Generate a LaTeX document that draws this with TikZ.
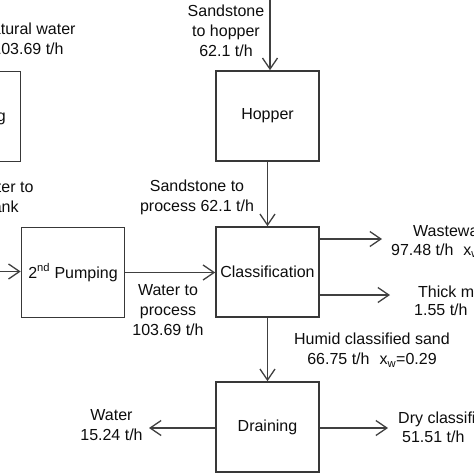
\documentclass[tikz,border=0pt]{standalone}
\usepackage{fontspec}
\setmainfont{Liberation Sans}
\usetikzlibrary{arrows.meta}
\begin{document}
\begin{tikzpicture}[x=1pt,y=-1pt,
  txt/.style={font=\fontsize{16}{20}\selectfont, text=black!95},
  box/.style={txt, draw=black!78, line width=1.6pt, minimum width=103pt, minimum height=90pt, inner sep=0pt},
  flow/.style={draw=black!75, line width=1.3pt, -{Straight Barb[length=11pt,width=15pt,line width=1.3pt]}},
  lbl/.style={txt, inner sep=0pt, align=center},
  lblw/.style={txt, inner sep=0pt, anchor=base west}]
\useasboundingbox (0,0) rectangle (474,474);
\clip (0,0) rectangle (474,474);

% process boxes
\node[box] (pump1) at (-31,116.5) {1\textsuperscript{st} Pumping\hspace*{12pt}};
\node[box] (hopper) at (267.5,116) {Hopper};
\node[box] (pump2) at (73,272.5) {2\textsuperscript{nd} Pumping};
\node[box] (class) at (267.5,272) {Classification};
\node[box] (drain) at (267.5,427) {Draining};

% free ends of connectors
\coordinate (topin) at (270,-5);
\coordinate (tankout) at (-10,271.5);
\coordinate (ww) at (382,239);
\coordinate (tm) at (390,295);
\coordinate (wout) at (149,428);
\coordinate (dry) at (388,428);

% connectors
\draw[flow] (topin) -- (topin |- hopper.north);
\draw[flow] (hopper.south) -- (class.north);
\draw[flow] (tankout) -- (tankout -| pump2.west);
\draw[flow] (pump2.east) -- (pump2.east -| class.west);
\draw[flow] (class.east |- ww) -- (ww);
\draw[flow] (class.east |- tm) -- (tm);
\draw[flow] (class.south) -- (drain.north);
\draw[flow] (drain.west |- wout) -- (wout);
\draw[flow] (drain.east |- dry) -- (dry);

% labels
\node[lbl] (lnat) at (28,38.5) {Natural water\\103.69 t/h};
\node[lbl] (lsand) at (226,31) {Sandstone\\to hopper\\62.1 t/h};
\node[lbl] (ltank) at (3.5,197.5) {Water to\\tank};
\node[lbl] (lproc) at (197,197.5) {Sandstone to\\process 62.1 t/h};
\node[lbl] (lwat) at (168,310.5) {Water to\\process\\103.69 t/h};
\node[lbl] (lhum) at (372,350) {Humid classified sand\\66.75 t/h\hspace{10pt}x\textsubscript{w}=0.29};
\node[lbl] (lwout) at (111.5,425.5) {Water\\15.24 t/h};
\node[lblw] (lww1) at (413,236) {Wastewater};
\node[lblw] (lww2) at (391,255) {97.48 t/h\hspace{10pt}x\textsubscript{w}};
\node[lblw] (ltm1) at (418,297) {Thick mud};
\node[lblw] (ltm2) at (414,315.5) {1.55 t/h};
\node[lblw] (ldry1) at (398,423.5) {Dry classified sand};
\node[lblw] (ldry2) at (402,442.5) {51.51 t/h};
\end{tikzpicture}
\end{document}
